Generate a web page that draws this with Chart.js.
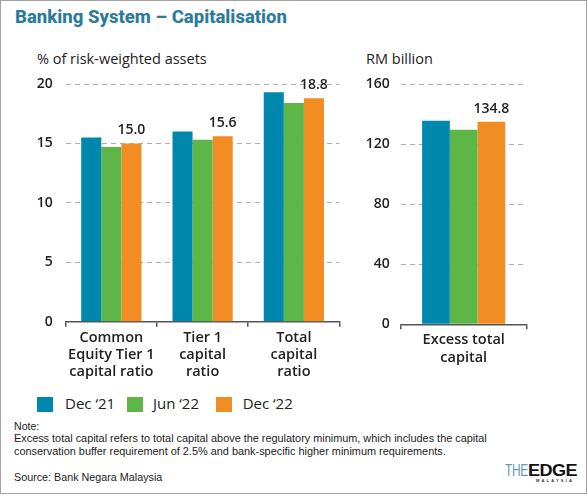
<!DOCTYPE html>
<html>
<head>
<meta charset="utf-8">
<script src="https://cdn.jsdelivr.net/npm/chart.js@4.4.1/dist/chart.umd.min.js"></script>
<style>
  html, body { margin: 0; padding: 0; background: #fff; }
  #quadro { position: relative; width: 588px; height: 496px; overflow: hidden; }
  #moldura { position: absolute; left: 0; top: 0; width: 587px; height: 494px; box-sizing: border-box; border: 1.5px solid #a3a3a3; }
  .txt { position: absolute; white-space: nowrap; color: #222; }
  #titulo { left: 15px; top: 6px; font: 800 18px "Roboto", sans-serif; color: #2c7b9b; line-height: 22px; transform-origin: left center; }
  .subtitulo { top: 49px; font: 500 14.5px "Open Sans", sans-serif; line-height: 20px; }
  canvas { position: absolute; }
  .quadrado { position: absolute; width: 16px; height: 15px; top: 396.5px; }
  .legenda { top: 393px; font: 400 15px "Open Sans", sans-serif; line-height: 20px; }
  .nota { left: 14px; font: 400 10.5px "Liberation Sans", Arial, sans-serif; line-height: 12px; transform-origin: left center; }
  .logo { top: 462px; font: 16px "Liberation Sans", Arial, sans-serif; line-height: 18px; transform-origin: left center; letter-spacing: -0.5px; }
</style>
</head>
<body>
<div id="quadro">
  <div id="moldura"></div>
  <div id="titulo" class="txt" data-w="272">Banking System – Capitalisation</div>
  <div class="txt subtitulo" style="left:37px">% of risk-weighted assets</div>
  <div class="txt subtitulo" style="left:366px">RM billion</div>
  <canvas id="graficoRatio" width="350" height="330" style="left:0;top:60px"></canvas>
  <canvas id="graficoExcesso" width="238" height="330" style="left:350px;top:60px"></canvas>
  <div id="legendaBox"></div>
  <div class="txt nota" data-w="25.3" style="top:419.7px">Note:</div>
  <div class="txt nota" data-w="472.7" style="top:432.3px">Excess total capital refers to total capital above the regulatory minimum, which includes the capital</div>
  <div class="txt nota" data-w="431.7" style="top:444.7px">conservation buffer requirement of 2.5% and bank-specific higher minimum requirements.</div>
  <div class="txt nota" data-w="148.3" style="top:470.7px">Source: Bank Negara Malaysia</div>
  <div class="txt logo" data-w="22.7" style="left:505px;color:#5b9dbd;font-weight:400">THE</div>
  <div class="txt logo" data-w="49" style="left:528.3px;color:#111;font-weight:700">EDGE</div>
  <div class="txt" style="left:536px;top:478px;font:700 4px Arial,sans-serif;letter-spacing:2.2px;color:#333">MALAYSIA</div>
</div>

<script>
// categorias e séries
const categoriasRatio = [['Common', 'Equity Tier 1', 'capital ratio'], ['Tier 1', 'capital', 'ratio'], ['Total', 'capital', 'ratio']];
const categoriasExcesso = [['Excess total', 'capital']];
const periodos = ['Dec ‘21', 'Jun ‘22', 'Dec ‘22'];

// % of risk-weighted assets
const dec21Ratio = [15.5, 16.0, 19.3];
const jun22Ratio = [14.7, 15.3, 18.4];
const dec22Ratio = [15.0, 15.6, 18.8];

// RM billion
const dec21Excesso = [135.5];
const jun22Excesso = [129.5];
const dec22Excesso = [134.8];

const ticksRatio = [0, 5, 10, 15, 20];
const ticksExcesso = [0, 40, 80, 120, 160];

const cores = ['#0087ad', '#5db647', '#f28d23'];

const fonteGrafico = '"Open Sans", sans-serif';

// Plugin para escrever o valor em cima das barras de Dec '22
const rotuloValores = {
    id: 'rotuloValores',
    afterDatasetsDraw(chart) {
        const ctx = chart.ctx;
        const meta = chart.getDatasetMeta(2);
        const valores = chart.data.datasets[2].data;
        ctx.save();
        ctx.font = '600 14px ' + fonteGrafico;
        ctx.fillStyle = '#222';
        ctx.textAlign = 'center';
        ctx.textBaseline = 'alphabetic';
        meta.data.forEach((barra, i) => {
            ctx.fillText(valores[i].toFixed(1), barra.x, barra.y - 9);
        });
        ctx.restore();
    }
};

function criarGrafico(idCanvas, categorias, series, ticks, medidas) {
    const ctx = document.getElementById(idCanvas).getContext('2d');
    return new Chart(ctx, {
        type: 'bar',
        data: {
            labels: categorias,
            datasets: series.map((valores, i) => ({
                label: periodos[i],
                data: valores,
                backgroundColor: cores[i],
                borderWidth: 0,
                categoryPercentage: 0.66,
                barPercentage: 1.0
            }))
        },
        options: {
            responsive: false,
            animation: false,
            layout: { padding: { left: 0, top: 24, right: medidas.direita, bottom: 0 } },
            plugins: { legend: { display: false }, tooltip: { enabled: false } },
            scales: {
                x: {
                    afterFit: (s) => { s.height = medidas.alturaX; },
                    border: { display: true, color: '#555', width: 1.5 },
                    grid: { display: true, drawOnChartArea: false, drawTicks: true, tickLength: 5, color: '#555', lineWidth: 1.5 },
                    ticks: {
                        padding: 2,
                        color: '#222',
                        maxRotation: 0,
                        autoSkip: false,
                        font: { family: fonteGrafico, size: 14.5, weight: '600', lineHeight: 1.2 }
                    }
                },
                y: {
                    min: ticks[0],
                    max: ticks[ticks.length - 1],
                    afterBuildTicks: (s) => { s.ticks = ticks.map((v) => ({ value: v })); },
                    afterFit: (s) => { s.width = medidas.larguraY; },
                    border: { display: false, dash: [5, 4] },
                    grid: { color: '#b0b0b0', lineWidth: 1, drawTicks: false },
                    ticks: {
                        padding: medidas.padY,
                        color: '#222',
                        font: { family: fonteGrafico, size: 14, weight: '600' }
                    }
                }
            }
        },
        plugins: [rotuloValores]
    });
}

criarGrafico('graficoRatio', categoriasRatio, [dec21Ratio, jun22Ratio, dec22Ratio], ticksRatio,
    { larguraY: 65.7, direita: 10.5, alturaX: 68.3, padY: 13 });
criarGrafico('graficoExcesso', categoriasExcesso, [dec21Excesso, jun22Excesso, dec22Excesso], ticksExcesso,
    { larguraY: 50.7, direita: 61.3, alturaX: 65.7, padY: 11 });

// Legenda em HTML
const legendaBox = document.getElementById('legendaBox');
const posQuadrado = [37.3, 126.7, 216];
const posTexto = [65, 153, 242.7];
periodos.forEach((p, i) => {
    const q = document.createElement('div');
    q.className = 'quadrado';
    q.style.left = posQuadrado[i] + 'px';
    q.style.background = cores[i];
    legendaBox.appendChild(q);
    const t = document.createElement('div');
    t.className = 'txt legenda';
    t.style.left = posTexto[i] + 'px';
    t.textContent = p;
    legendaBox.appendChild(t);
});

// Ajusta a largura das linhas de nota, do título e do logo
document.querySelectorAll('[data-w]').forEach((el) => {
    const w = el.getBoundingClientRect().width;
    el.style.transform = 'scaleX(' + (parseFloat(el.dataset.w) / w) + ')';
});
</script>
</body>
</html>
